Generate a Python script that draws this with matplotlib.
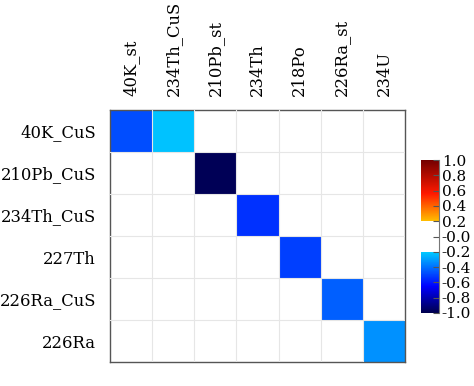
import numpy as np
import matplotlib
matplotlib.use("Agg")
import matplotlib.pyplot as plt
from matplotlib.colors import LinearSegmentedColormap

# correlation coefficients
col_labels = ["40K_st", "234Th_CuS", "210Pb_st", "234Th", "218Po", "226Ra_st", "234U"]
row_labels = ["40K_CuS", "210Pb_CuS", "234Th_CuS", "227Th", "226Ra_CuS", "226Ra"]

row_40K_CuS = [-0.48, -0.22, 0, 0, 0, 0, 0]
row_210Pb_CuS = [0, 0, -0.98, 0, 0, 0, 0]
row_234Th_CuS = [0, 0, 0, -0.54, 0, 0, 0]
row_227Th = [0, 0, 0, 0, -0.51, 0, 0]
row_226Ra_CuS = [0, 0, 0, 0, 0, -0.44, 0]
row_226Ra = [0, 0, 0, 0, 0, 0, -0.33]

corr = np.array([row_40K_CuS, row_210Pb_CuS, row_234Th_CuS,
                 row_227Th, row_226Ra_CuS, row_226Ra])

# jet-like map with a white band between -0.2 and 0.2
nodes = [
    (0.00, (0.0, 0.0, 0.30)),
    (0.175, (0.0, 0.0, 1.0)),
    (0.40, (0.0, 0.80, 1.0)),
    (0.40, (1.0, 1.0, 1.0)),
    (0.60, (1.0, 1.0, 1.0)),
    (0.60, (1.0, 0.75, 0.0)),
    (0.78, (1.0, 0.10, 0.0)),
    (1.00, (0.45, 0.0, 0.0)),
]
cmap = LinearSegmentedColormap.from_list("corr", nodes, N=512)

plt.rcParams['font.family'] = 'DejaVu Serif'

fig = plt.figure(figsize=(4.74, 3.86), dpi=100)
ax = fig.add_axes([110 / 474, 1 - 362 / 386, 295 / 474, 252 / 386])

mesh = ax.pcolormesh(corr, cmap=cmap, vmin=-1, vmax=1)
ax.set_xlim(0, len(col_labels))
ax.set_ylim(len(row_labels), 0)

ax.set_xticks(np.arange(len(col_labels)) + 0.5)
ax.set_xticklabels(col_labels, rotation=90, fontsize=11.8)
ax.set_yticks(np.arange(len(row_labels)) + 0.5)
ax.set_yticklabels(row_labels, fontsize=11.8)
ax.xaxis.tick_top()
ax.tick_params(length=0, pad=10)

for x in range(1, len(col_labels)):
    ax.axvline(x, color='#e6e6e6', lw=0.8, zorder=3)
for y in range(1, len(row_labels)):
    ax.axhline(y, color='#e6e6e6', lw=0.8, zorder=3)

for s in ax.spines.values():
    s.set_color('#555555')
    s.set_linewidth(1.0)

cax = fig.add_axes([421 / 474, 1 - 313 / 386, 18 / 474, 153 / 386])
cb = fig.colorbar(mesh, cax=cax)
ticks = np.arange(-1.0, 1.01, 0.2)
cb.set_ticks(ticks)
cb.ax.set_yticklabels(["%.1f" % t for t in ticks], fontsize=11)
cb.outline.set_visible(False)
cax.plot([1, 1], [0, 1], transform=cax.transAxes, color='#777777', lw=0.8,
         clip_on=False, zorder=5)
cax.tick_params(direction='in', length=4, width=0.8, color='#555555', pad=2)

fig.savefig("out.png", dpi=100)
